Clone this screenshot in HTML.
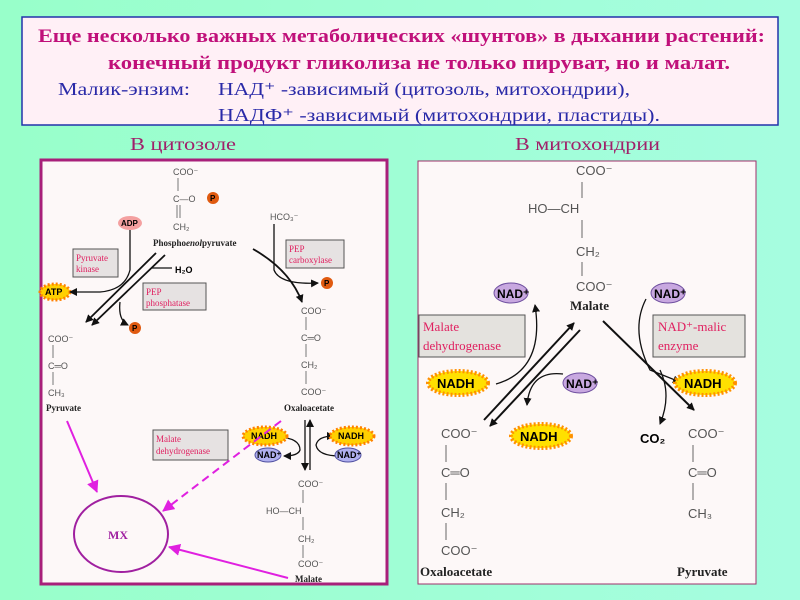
<!DOCTYPE html>
<html><head><meta charset="utf-8"><style>
body{margin:0;width:800px;height:600px;overflow:hidden;background:linear-gradient(90deg,#98ffca,#a6fde0);font-family:"Liberation Sans",sans-serif}
svg{position:absolute;left:0;top:0}
</style></head><body>
<svg width="800" height="600" viewBox="0 0 800 600">
<defs>
<marker id="a" markerWidth="8" markerHeight="8" refX="7" refY="4" orient="auto" markerUnits="userSpaceOnUse"><path d="M0,0L8,4L0,8z" fill="#111"/></marker>
<marker id="m" markerWidth="12" markerHeight="12" refX="11" refY="6" orient="auto" markerUnits="userSpaceOnUse"><path d="M0,0L12,6L0,12z" fill="#e020e0"/></marker>
</defs>
<rect x="22" y="17" width="756" height="108" fill="#fff0f6" stroke="#2233aa" stroke-width="1.5"/>
<g font-family="Liberation Serif,serif">
<text x="38" y="42" font-size="19" font-weight="bold" fill="#c0107a" textLength="727" lengthAdjust="spacingAndGlyphs">Еще несколько важных метаболических «шунтов» в дыхании растений:</text>
<text x="108" y="69" font-size="19" font-weight="bold" fill="#c0107a" textLength="622" lengthAdjust="spacingAndGlyphs">конечный продукт  гликолиза не только пируват,  но и малат.</text>
<text x="58" y="95" font-size="18" fill="#2a2aa8" textLength="132" lengthAdjust="spacingAndGlyphs">Малик-энзим:</text>
<text x="218" y="95" font-size="18" fill="#2a2aa8" textLength="412" lengthAdjust="spacingAndGlyphs">НАД⁺ -зависимый (цитозоль, митохондрии),</text>
<text x="218" y="121" font-size="18" fill="#2a2aa8" textLength="442" lengthAdjust="spacingAndGlyphs">НАДФ⁺ -зависимый (митохондрии, пластиды).</text>
<text x="130" y="150" font-size="18" fill="#a0206a" textLength="106" lengthAdjust="spacingAndGlyphs">В цитозоле</text>
<text x="515" y="150" font-size="18" fill="#a0206a" textLength="145" lengthAdjust="spacingAndGlyphs">В митохондрии</text>
</g>
<!-- left panel -->
<rect x="41" y="160" width="346" height="424" fill="#fdf8f8" stroke="#a8207a" stroke-width="3"/>
<g font-size="9" fill="#555">
<text x="173" y="175">COO⁻</text><line x1="178" y1="178" x2="178" y2="191" stroke="#777"/>
<text x="173" y="202">C—O</text><circle cx="213" cy="198" r="6" fill="#e05a10"/><text x="210" y="201" font-size="8" fill="#000" font-weight="bold">P</text>
<line x1="177" y1="205" x2="177" y2="218" stroke="#777"/><line x1="180" y1="205" x2="180" y2="218" stroke="#777"/>
<text x="173" y="230">CH₂</text>
<text x="270" y="220">HCO₃⁻</text>
<text x="48" y="342">COO⁻</text><line x1="53" y1="345" x2="53" y2="358" stroke="#777"/>
<text x="48" y="369">C═O</text><line x1="53" y1="372" x2="53" y2="385" stroke="#777"/>
<text x="48" y="396">CH₃</text>
<text x="301" y="314">COO⁻</text><line x1="306" y1="317" x2="306" y2="330" stroke="#777"/>
<text x="301" y="341">C═O</text><line x1="306" y1="344" x2="306" y2="357" stroke="#777"/>
<text x="301" y="368">CH₂</text><line x1="306" y1="371" x2="306" y2="384" stroke="#777"/>
<text x="301" y="395">COO⁻</text>
<text x="298" y="487">COO⁻</text><line x1="303" y1="490" x2="303" y2="503" stroke="#777"/>
<text x="266" y="514">HO—CH</text><line x1="303" y1="517" x2="303" y2="530" stroke="#777"/>
<text x="298" y="542">CH₂</text><line x1="303" y1="545" x2="303" y2="558" stroke="#777"/>
<text x="298" y="567">COO⁻</text>
</g>
<g font-family="Liberation Serif,serif" font-size="9" font-weight="bold" fill="#222">
<text x="153" y="246">Phospho<tspan font-style="italic">enol</tspan>pyruvate</text>
<text x="46" y="411">Pyruvate</text>
<text x="284" y="411">Oxaloacetate</text>
<text x="295" y="582">Malate</text>
</g>
<g font-family="Liberation Serif,serif" font-size="9" fill="#e02060">
<rect x="73" y="249" width="45" height="28" fill="#e6e2e2" stroke="#555"/><text x="76" y="261">Pyruvate</text><text x="76" y="272">kinase</text>
<rect x="143" y="283" width="63" height="27" fill="#e6e2e2" stroke="#555"/><text x="146" y="295">PEP</text><text x="146" y="306">phosphatase</text>
<rect x="286" y="240" width="58" height="28" fill="#e6e2e2" stroke="#555"/><text x="289" y="252">PEP</text><text x="289" y="263">carboxylase</text>
<rect x="153" y="430" width="75" height="30" fill="#e6e2e2" stroke="#555"/><text x="156" y="442">Malate</text><text x="156" y="454">dehydrogenase</text>
</g>
<ellipse cx="130" cy="223" rx="12" ry="7" fill="#f4a0a0"/><text x="121" y="226" font-size="8" font-weight="bold">ADP</text>
<ellipse cx="55" cy="292" rx="15" ry="8" fill="#ffd000" stroke="#ff8000" stroke-width="3" stroke-dasharray="2 2"/><text x="45" y="295" font-size="9" font-weight="bold">ATP</text>
<text x="175" y="273" font-size="9" font-weight="bold">H₂O</text>
<circle cx="135" cy="328" r="6" fill="#e05a10"/><text x="132" y="331" font-size="8" font-weight="bold">P</text>
<circle cx="327" cy="283" r="6" fill="#e05a10"/><text x="324" y="286" font-size="8" font-weight="bold">P</text>
<g fill="none" stroke="#111" stroke-width="1.3">
<path d="M156,253 L86,322" stroke-width="1.8" marker-end="url(#a)"/>
<path d="M165,255 L92,325" stroke-width="1.8" marker-end="url(#a)"/>
<path d="M130,230 L130,270 Q125,290 100,292 L70,292" marker-end="url(#a)"/>
<path d="M152,268 L172,268"/>
<path d="M120,302 Q118,320 128,325" marker-end="url(#a)"/>
<path d="M253,249 Q290,270 302,302" stroke-width="1.8" marker-end="url(#a)"/>
<path d="M274,224 L274,270 Q280,285 318,283" marker-end="url(#a)"/>
<path d="M305,420 L305,470" marker-end="url(#a)"/><path d="M310,470 L310,420" marker-end="url(#a)"/>
<path d="M278,437 Q300,438 300,450 Q298,456 284,456" marker-end="url(#a)"/>
<path d="M340,456 Q318,456 316,445 Q318,436 334,436" marker-end="url(#a)"/>
</g>
<ellipse cx="265" cy="436" rx="22" ry="9" fill="#ffd000" stroke="#ff8000" stroke-width="3" stroke-dasharray="2 2"/><text x="251" y="439" font-size="9" font-weight="bold">NADH</text>
<ellipse cx="268" cy="455" rx="13" ry="7" fill="#b0b0f0" stroke="#5050a0"/><text x="257" y="458" font-size="9" font-weight="bold">NAD⁺</text>
<ellipse cx="352" cy="436" rx="22" ry="9" fill="#ffd000" stroke="#ff8000" stroke-width="3" stroke-dasharray="2 2"/><text x="338" y="439" font-size="9" font-weight="bold">NADH</text>
<ellipse cx="348" cy="455" rx="13" ry="7" fill="#b0b0f0" stroke="#5050a0"/><text x="337" y="458" font-size="9" font-weight="bold">NAD⁺</text>
<ellipse cx="121" cy="534" rx="47" ry="38" fill="none" stroke="#a020a0" stroke-width="2"/>
<text x="108" y="539" font-family="Liberation Serif,serif" font-size="12" font-weight="bold" fill="#a020a0">MX</text>
<g stroke="#e020e0" stroke-width="2" fill="none">
<path d="M67,421 L97,492" marker-end="url(#m)"/>
<path d="M281,421 L163,511" stroke-dasharray="8 5" marker-end="url(#m)"/>
<path d="M288,578 L169,547" marker-end="url(#m)"/>
</g>
<!-- right panel -->
<rect x="418" y="161" width="338" height="423" fill="#fdf8f8" stroke="#a0306a" stroke-width="1"/>
<g font-size="13" fill="#555">
<text x="576" y="175">COO⁻</text><line x1="582" y1="182" x2="582" y2="198" stroke="#666"/>
<text x="528" y="213">HO—CH</text><line x1="582" y1="220" x2="582" y2="238" stroke="#666"/>
<text x="576" y="256">CH₂</text><line x1="582" y1="262" x2="582" y2="276" stroke="#666"/>
<text x="576" y="291">COO⁻</text>
<text x="441" y="438">COO⁻</text><line x1="446" y1="445" x2="446" y2="462" stroke="#666"/>
<text x="441" y="477">C═O</text><line x1="446" y1="483" x2="446" y2="500" stroke="#666"/>
<text x="441" y="517">CH₂</text><line x1="446" y1="523" x2="446" y2="540" stroke="#666"/>
<text x="441" y="555">COO⁻</text>
<text x="688" y="438">COO⁻</text><line x1="693" y1="445" x2="693" y2="462" stroke="#666"/>
<text x="688" y="477">C═O</text><line x1="693" y1="483" x2="693" y2="500" stroke="#666"/>
<text x="688" y="518">CH₃</text>
</g>
<g font-family="Liberation Serif,serif" font-size="13" font-weight="bold" fill="#222">
<text x="570" y="310">Malate</text><text x="420" y="576">Oxaloacetate</text><text x="677" y="576">Pyruvate</text>
</g>
<g font-family="Liberation Serif,serif" font-size="13" fill="#e02060">
<rect x="419" y="315" width="106" height="42" fill="#e4e2de" stroke="#555"/><text x="423" y="331">Malate</text><text x="423" y="350">dehydrogenase</text>
<rect x="653" y="315" width="92" height="42" fill="#e4e2de" stroke="#555"/><text x="658" y="331">NAD⁺-malic</text><text x="658" y="350">enzyme</text>
</g>
<g fill="none" stroke="#111" stroke-width="1.3">
<path d="M484,420 L574,323" stroke-width="2" marker-end="url(#a)"/>
<path d="M580,330 L490,426" stroke-width="2" marker-end="url(#a)"/>
<path d="M603,321 L694,410" stroke-width="2" marker-end="url(#a)"/>
<path d="M496,384 Q545,370 535,305" marker-end="url(#a)"/>
<path d="M563,374 Q530,370 527,405" marker-end="url(#a)"/>
<path d="M646,299 Q630,330 650,370 L680,382" marker-end="url(#a)"/>
<path d="M660,370 Q672,395 660,424" marker-end="url(#a)"/>
</g>
<ellipse cx="511" cy="293" rx="17" ry="10" fill="#c8a8e0" stroke="#7050a0"/><text x="497" y="298" font-size="12" font-weight="bold">NAD⁺</text>
<ellipse cx="668" cy="293" rx="17" ry="10" fill="#c8a8e0" stroke="#7050a0"/><text x="654" y="298" font-size="12" font-weight="bold">NAD⁺</text>
<ellipse cx="580" cy="383" rx="17" ry="10" fill="#c8a8e0" stroke="#7050a0"/><text x="566" y="388" font-size="12" font-weight="bold">NAD⁺</text>
<ellipse cx="458" cy="383" rx="30" ry="12" fill="#ffe000" stroke="#ff9000" stroke-width="4" stroke-dasharray="2 2"/><text x="437" y="388" font-size="13" font-weight="bold">NADH</text>
<ellipse cx="705" cy="383" rx="30" ry="12" fill="#ffe000" stroke="#ff9000" stroke-width="4" stroke-dasharray="2 2"/><text x="684" y="388" font-size="13" font-weight="bold">NADH</text>
<ellipse cx="541" cy="436" rx="30" ry="12" fill="#ffe000" stroke="#ff9000" stroke-width="4" stroke-dasharray="2 2"/><text x="520" y="441" font-size="13" font-weight="bold">NADH</text>
<text x="640" y="443" font-size="13" font-weight="bold">CO₂</text>
</svg>
</body></html>
